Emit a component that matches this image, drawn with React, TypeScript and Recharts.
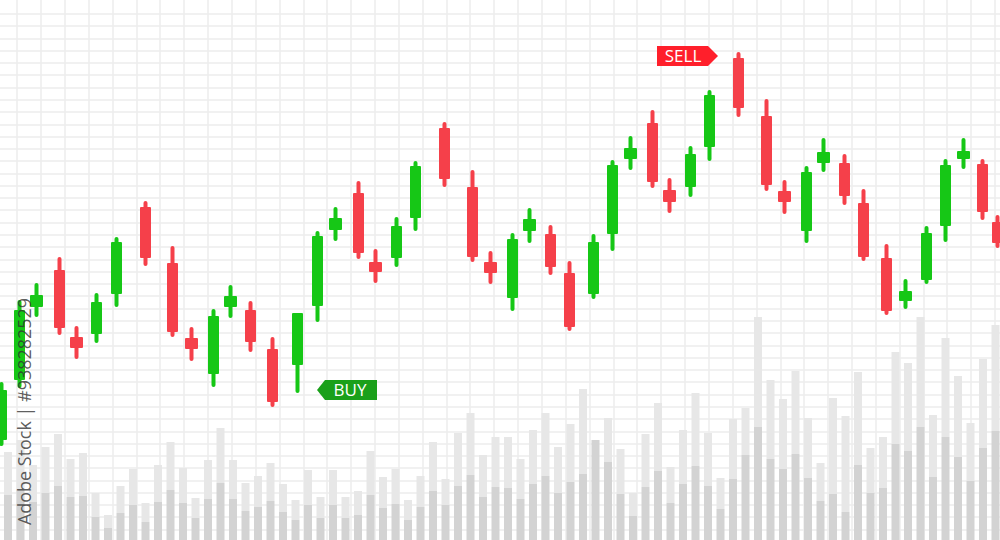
import { BarChart, ComposedChart, Bar, XAxis, YAxis, CartesianGrid, ReferenceDot } from "recharts";

const W = 1000;
const H = 540;
const GREEN = "#16c716";
const RED = "#f5404a";

// session time of each candle (0..1000) and its OHLC prices
const candleTime = [1, 19, 36, 59, 76, 96, 116, 145, 172, 191, 213, 230, 250, 272, 297, 317, 335, 358, 375, 396, 415, 444, 472, 490, 512, 529, 550, 569, 593, 612, 630, 652, 669, 690, 709, 738, 766, 784, 806, 823, 844, 863, 886, 905, 926, 945, 963, 982, 997];
const openPrice = [20, 32, 46.6, 54, 40.6, 41.2, 49.2, 66.6, 55.4, 40.4, 33.2, 46.6, 46, 38.2, 35, 46.8, 62, 69.4, 55.6, 56.4, 64.4, 82.4, 70.6, 55.6, 48.4, 61.8, 61.2, 53.4, 49.2, 61.2, 76.2, 83.4, 70, 70.6, 78.6, 96.4, 84.8, 69.8, 61.8, 75.4, 75.4, 67.4, 56.4, 47.8, 52, 62.8, 76.2, 75.2, 63.6];
const closePrice = [30, 46, 49, 42.4, 38.4, 47.6, 59.6, 56.4, 41.6, 38.2, 44.8, 48.8, 39.6, 27.6, 45.4, 60.8, 64.4, 57.4, 53.6, 62.8, 74.8, 72.2, 56.6, 53.4, 60.2, 64.2, 54.6, 42.6, 59.6, 75, 78.4, 71.6, 67.6, 77.2, 89, 86.4, 71, 67.6, 73.6, 77.6, 68.8, 56.6, 45.8, 49.8, 61.4, 75, 77.8, 65.6, 59.4];
const highPrice = [31.6, 48, 51.4, 56.6, 42.8, 49.4, 60.6, 67.8, 58.8, 42.6, 46.2, 51, 47.8, 40.6, 45.4, 61.8, 66.6, 71.8, 58.2, 64.6, 75.8, 83.6, 74, 57.8, 61.4, 66.4, 63, 55.8, 61.2, 76, 80.8, 86, 72.4, 78.8, 90, 97.6, 88.2, 72, 74.8, 80.4, 77.2, 70.2, 59.2, 52.2, 62.8, 76.2, 80.4, 76.2, 65];
const lowPrice = [18.8, 30.4, 44.6, 41, 36.2, 39.4, 46.6, 54.8, 40.6, 35.8, 30.6, 44.4, 37.6, 26.6, 29.4, 43.6, 59.8, 56.2, 51.4, 54.6, 61.8, 70.6, 55.6, 51.2, 45.8, 59.4, 53, 41.8, 48.2, 57.8, 74, 70.4, 65.4, 68.6, 75.8, 84.6, 69.8, 65.2, 59.4, 73.6, 67, 55.8, 45, 46.2, 51.2, 59.6, 74.2, 64, 58.4];

// volume per slot: total bar and its darker base part
const volumeTotal = [88, 100, 75, 93, 106, 81, 87, 47, 25, 54, 71, 37, 75, 98, 72, 42, 80, 112, 80, 57, 64, 77, 56, 40, 70, 43, 70, 43, 49, 89, 63, 71, 40, 64, 98, 61, 107, 127, 85, 103, 103, 81, 110, 127, 93, 116, 151, 100, 122, 91, 47, 106, 137, 73, 110, 147, 107, 62, 121, 132, 223, 160, 141, 169, 122, 77, 142, 124, 168, 92, 103, 188, 177, 223, 125, 202, 164, 117, 181, 215];
const volumeBase = [45, 50, 38, 47, 54, 43, 44, 23, 12, 27, 35, 18, 38, 50, 37, 22, 41, 57, 41, 29, 33, 39, 28, 20, 35, 22, 35, 22, 25, 45, 32, 36, 20, 33, 49, 35, 54, 65, 43, 53, 52, 41, 56, 64, 47, 58, 66, 100, 78, 46, 24, 53, 69, 37, 56, 74, 54, 31, 61, 85, 113, 81, 71, 86, 62, 39, 46, 28, 75, 47, 52, 96, 89, 113, 63, 103, 83, 59, 92, 109];

const signals = [
  { label: "BUY", t: 297, price: 29.4 },
  { label: "SELL", t: 738, price: 97.6 },
];

// background grid lines (px)
const gridX = Array.from({ length: 43 }, (_, i) => Math.round(17.3 + i * 23.85));
const gridY = Array.from({ length: 44 }, (_, i) => Math.round(14 + i * 12.28));

const candles = candleTime.map((t, i) => ({
  t,
  open: openPrice[i],
  close: closePrice[i],
  high: highPrice[i],
  low: lowPrice[i],
}));

const volumes = volumeTotal.map((v, i) => ({
  slot: String(i),
  base: volumeBase[i],
  rest: v - volumeBase[i],
}));

function Candle(props: any) {
  const { x, y, width, height, payload } = props;
  if (!payload || height == null) return null;
  const { open, close, high, low } = payload;
  const py = (v: number) => y + ((high - v) / (high - low)) * height;
  const cx = x + width / 2;
  const color = close >= open ? GREEN : RED;
  const top = py(Math.max(open, close));
  const bodyH = Math.max(py(Math.min(open, close)) - top, 1);
  const bw = bodyH < 16 ? 13 : 11;
  return (
    <g>
      <line x1={cx} x2={cx} y1={y + 2} y2={y + height - 2} stroke={color} strokeWidth={4} strokeLinecap="round" />
      <rect x={cx - bw / 2} y={top} width={bw} height={bodyH} rx={1} fill={color} />
    </g>
  );
}

function Flag({ cx, cy, label }: any) {
  if (label === "BUY") {
    const c = cy - 3;
    return (
      <g>
        <polygon
          points={`${cx + 20},${c} ${cx + 28},${c - 10} ${cx + 80},${c - 10} ${cx + 80},${c + 10} ${cx + 28},${c + 10}`}
          fill="#1aa01a"
        />
        <text x={cx + 53} y={c + 6} textAnchor="middle" fill="#fff" fontSize={17} fontFamily="Open Sans, sans-serif">
          BUY
        </text>
      </g>
    );
  }
  const c = cy + 4;
  return (
    <g>
      <polygon
        points={`${cx - 81},${c - 10} ${cx - 30},${c - 10} ${cx - 20},${c} ${cx - 30},${c + 10} ${cx - 81},${c + 10}`}
        fill="#ff1f2b"
      />
      <text x={cx - 55} y={c + 6} textAnchor="middle" fill="#fff" fontSize={17} fontFamily="Open Sans, sans-serif">
        SELL
      </text>
    </g>
  );
}

export default function App() {
  const layer = { position: "absolute" as const, left: 0, top: 0 };
  return (
    <div style={{ position: "absolute", left: 0, top: 0, width: W, height: H, background: "#fff", overflow: "hidden" }}>
      <div style={layer}>
        <BarChart width={W} height={H} data={volumes} margin={{ top: 0, right: 0, bottom: 0, left: 0 }}>
          <CartesianGrid verticalPoints={gridX} horizontalPoints={gridY} stroke="#ececec" strokeWidth={1.5} />
          <XAxis dataKey="slot" hide padding={{ left: 2, right: -2 }} />
          <YAxis hide domain={[0, 540]} />
          <Bar dataKey="base" stackId="v" fill="#d3d3d3" barSize={8} isAnimationActive={false} />
          <Bar dataKey="rest" stackId="v" fill="#e7e7e7" barSize={8} isAnimationActive={false} />
        </BarChart>
      </div>
      <div style={layer}>
        <ComposedChart width={W} height={H} data={candles} margin={{ top: 0, right: 0, bottom: 0, left: 0 }}>
          <XAxis xAxisId="t" dataKey="t" type="number" hide domain={[0, W]} allowDataOverflow />
          <YAxis yAxisId="p" type="number" hide domain={[0, 108]} allowDataOverflow />
          <Bar
            xAxisId="t"
            yAxisId="p"
            dataKey={(d: any) => [d.low, d.high]}
            shape={Candle}
            barSize={14}
            isAnimationActive={false}
          />
          {signals.map((s) => (
            <ReferenceDot
              key={s.label}
              xAxisId="t"
              yAxisId="p"
              x={s.t}
              y={s.price}
              ifOverflow="visible"
              shape={(p: any) => <Flag cx={p.cx} cy={p.cy} label={s.label} />}
            />
          ))}
        </ComposedChart>
      </div>
      <svg width={W} height={H} style={{ ...layer, pointerEvents: "none" }}>
        <text
          transform="translate(31,525) rotate(-90)"
          fontSize={19}
          fontFamily="Open Sans, sans-serif"
          fill="#333"
          fillOpacity={0.8}
          textLength={227}
          lengthAdjust="spacingAndGlyphs"
        >
          Adobe Stock | #938282529
        </text>
      </svg>
    </div>
  );
}
